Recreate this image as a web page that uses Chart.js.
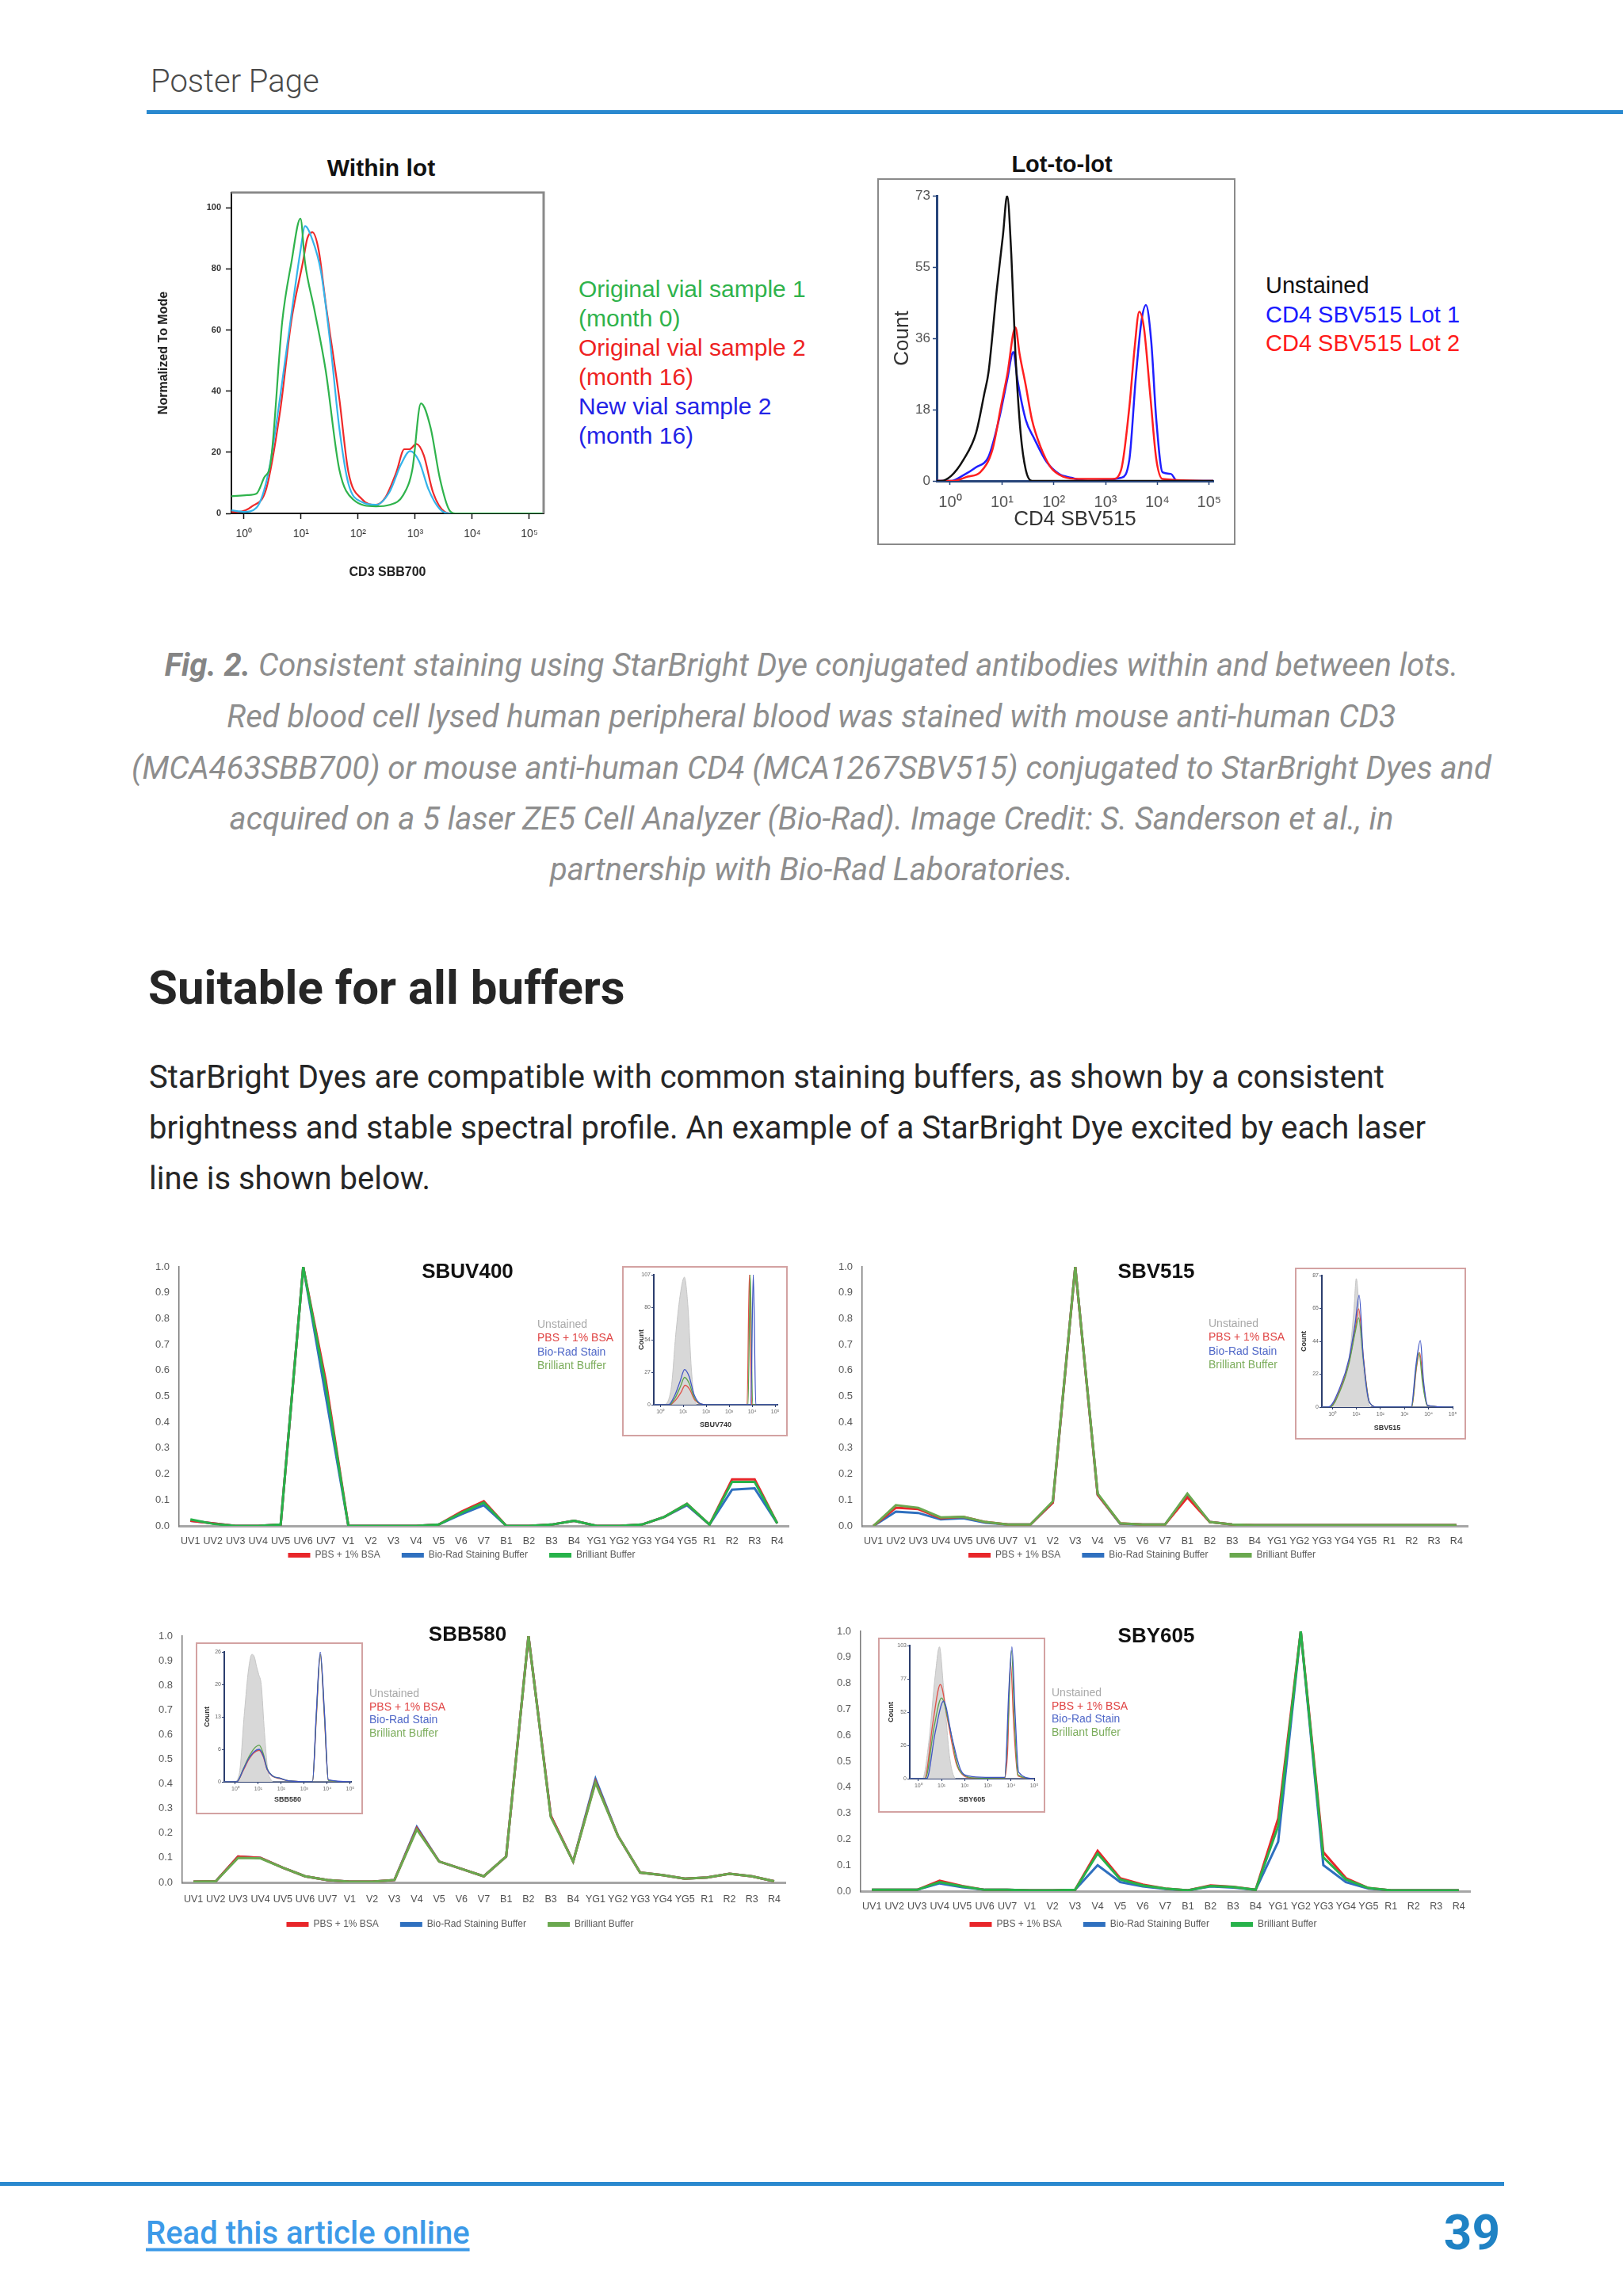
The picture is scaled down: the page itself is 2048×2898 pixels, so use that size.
<!DOCTYPE html>
<html>
<head>
<meta charset="utf-8">
<title>Poster Page</title>
<script src="https://cdn.jsdelivr.net/npm/chart.js@4.4.1/dist/chart.umd.min.js"></script>
<style>
  html, body { margin: 0; padding: 0; background: #fff; }
  #page { position: relative; width: 2048px; height: 2898px; overflow: hidden; background: #fff; font-family: Roboto, "Liberation Sans", sans-serif; }
  #page > * { position: absolute; margin: 0; }
  .rule { background: #2a89cf; height: 5px; }
  .txt { white-space: nowrap; }
  .vmid { transform: translateY(-50%); }
  .mid { transform: translate(-50%, -50%); white-space: nowrap; }
  .cap { left: 1024px; transform: translate(-50%, -50%); font-style: italic; font-size: 40px; color: #8e8e8e; white-space: nowrap; }
  .cap b { color: #858585; }
  .plt { font-family: "Liberation Sans", Arial, sans-serif; }
  .ptitle { font-family: "Liberation Sans", Arial, sans-serif; font-weight: bold; color: #111; }
  .frame { border: 2px solid #d3a2a2; background: #fff; box-sizing: border-box; }
  .ilg { font-family: "Liberation Sans", Arial, sans-serif; font-size: 14px; white-space: nowrap; }
</style>
</head>
<body>
<div id="page">
  <div class="txt vmid" style="left:190px;top:102px;font-size:40px;font-weight:300;color:#4a4a4a;">Poster Page</div>
  <div class="rule" style="left:185px;top:139px;width:1863px;"></div>

  <!-- Within lot -->
  <div class="ptitle mid" style="left:481px;top:212px;font-size:30px;">Within lot</div>
  <canvas id="withinLot" width="520" height="510" style="left:180px;top:230px;"></canvas>
  <div class="plt" style="left:730px;top:346px;font-size:30px;line-height:37px;white-space:nowrap;">
    <span style="color:#2fb34c">Original vial sample 1<br>(month 0)</span><br>
    <span style="color:#ee2222">Original vial sample 2<br>(month 16)</span><br>
    <span style="color:#2323e6">New vial sample 2<br>(month 16)</span>
  </div>

  <!-- Lot-to-lot -->
  <div class="ptitle mid" style="left:1340px;top:207px;font-size:29px;">Lot-to-lot</div>
  <div style="left:1107px;top:225px;width:452px;height:463px;border:2px solid #8a8a8a;box-sizing:border-box;"></div>
  <canvas id="lotToLot" width="448" height="458" style="left:1110px;top:228px;"></canvas>
  <div class="plt" style="left:1597px;top:342px;font-size:29px;line-height:36.5px;white-space:nowrap;">
    <span style="color:#111">Unstained</span><br>
    <span style="color:#1a1aff">CD4 SBV515 Lot 1</span><br>
    <span style="color:#ff1a1a">CD4 SBV515 Lot 2</span>
  </div>

  <div class="cap" style="top:839px;"><b>Fig. 2.</b> Consistent staining using StarBright Dye conjugated antibodies within and between lots.</div>
  <div class="cap" style="top:904px;">Red blood cell lysed human peripheral blood was stained with mouse anti-human CD3</div>
  <div class="cap" style="top:969px;">(MCA463SBB700) or mouse anti-human CD4 (MCA1267SBV515) conjugated to StarBright Dyes and</div>
  <div class="cap" style="top:1033px;">acquired on a 5 laser ZE5 Cell Analyzer (Bio-Rad). Image Credit: S. Sanderson et al., in</div>
  <div class="cap" style="top:1097px;">partnership with Bio-Rad Laboratories.</div>

  <div class="txt vmid" style="left:187px;top:1246px;font-size:60px;font-weight:700;color:#262626;">Suitable for all buffers</div>
  <div class="txt" style="left:188px;top:1328px;font-size:40px;line-height:64px;color:#262626;">
    StarBright Dyes are compatible with common staining buffers, as shown by a consistent<br>
    brightness and stable spectral profile. An example of a StarBright Dye excited by each laser<br>
    line is shown below.
  </div>

  <!-- spectral charts -->
  <canvas id="sbuv400" width="850" height="419" style="left:170px;top:1560px;"></canvas>
  <canvas id="sbv515" width="850" height="419" style="left:1030px;top:1560px;"></canvas>
  <canvas id="sbb580" width="850" height="419" style="left:170px;top:2026px;"></canvas>
  <canvas id="sby605" width="850" height="425" style="left:1030px;top:2020px;"></canvas>

  <div class="ptitle mid" style="left:590px;top:1604px;font-size:26px;">SBUV400</div>
  <div class="ptitle mid" style="left:1459px;top:1604px;font-size:26px;">SBV515</div>
  <div class="ptitle mid" style="left:590px;top:2062px;font-size:26px;">SBB580</div>
  <div class="ptitle mid" style="left:1459px;top:2064px;font-size:26px;">SBY605</div>

  <!-- insets -->
  <div class="frame" style="left:785px;top:1598px;width:209px;height:215px;"></div>
  <canvas id="insetUV" width="205" height="211" style="left:787px;top:1600px;"></canvas>
  <div class="frame" style="left:1634px;top:1600px;width:216px;height:217px;"></div>
  <canvas id="insetV" width="212" height="213" style="left:1636px;top:1602px;"></canvas>
  <div class="frame" style="left:247px;top:2073px;width:211px;height:217px;"></div>
  <canvas id="insetB" width="207" height="213" style="left:249px;top:2075px;"></canvas>
  <div class="frame" style="left:1108px;top:2067px;width:211px;height:221px;"></div>
  <canvas id="insetY" width="207" height="217" style="left:1110px;top:2069px;"></canvas>

  <div class="ilg" style="left:678px;top:1663px;line-height:17.3px;">
    <span style="color:#a9a9a9">Unstained</span><br><span style="color:#e04646">PBS + 1% BSA</span><br>
    <span style="color:#5068c8">Bio-Rad Stain</span><br><span style="color:#7cad5c">Brilliant Buffer</span>
  </div>
  <div class="ilg" style="left:1525px;top:1662px;line-height:17.3px;">
    <span style="color:#a9a9a9">Unstained</span><br><span style="color:#e04646">PBS + 1% BSA</span><br>
    <span style="color:#5068c8">Bio-Rad Stain</span><br><span style="color:#7cad5c">Brilliant Buffer</span>
  </div>
  <div class="ilg" style="left:466px;top:2129px;line-height:16.5px;">
    <span style="color:#a9a9a9">Unstained</span><br><span style="color:#e04646">PBS + 1% BSA</span><br>
    <span style="color:#5068c8">Bio-Rad Stain</span><br><span style="color:#7cad5c">Brilliant Buffer</span>
  </div>
  <div class="ilg" style="left:1327px;top:2128px;line-height:16.5px;">
    <span style="color:#a9a9a9">Unstained</span><br><span style="color:#e04646">PBS + 1% BSA</span><br>
    <span style="color:#5068c8">Bio-Rad Stain</span><br><span style="color:#7cad5c">Brilliant Buffer</span>
  </div>

  <div class="rule" style="left:0;top:2754px;width:1898px;"></div>
  <div class="txt vmid" style="left:184px;top:2818px;font-size:40px;font-weight:500;color:#3d9ae8;text-decoration:underline;text-underline-offset:6px;">Read this article online</div>
  <div class="txt vmid" style="right:155px;top:2817px;font-size:62px;font-weight:700;color:#1f82c4;">39</div>
</div>

<script>
// ---- data -------------------------------------------------------------
// histogram x values are log10 of intensity (10^0 .. 10^5)
const decades = [0, 1, 2, 3, 4, 5];
const supDigits = ['\u2070', '\u00b9', '\u00b2', '\u00b3', '\u2074', '\u2075'];

// Within lot, CD3 SBB700 (normalized to mode)
const withinYTicks = [0, 20, 40, 60, 80, 100];
const withinOrig1X = [-0.22, 0.06, 0.22, 0.35, 0.47, 0.67, 0.83, 0.99, 1.07, 1.23, 1.43, 1.67, 1.91, 2.31, 2.55, 2.79, 2.95, 3.1, 3.27, 3.43, 3.6, 3.7, 5.25];
const withinOrig1Y = [5.6, 6, 6.5, 11.6, 17, 62.7, 82, 96.5, 82, 67, 47, 14.4, 4.6, 2.3, 2.8, 6, 14.4, 36, 28, 11.6, 1, 0, 0];
const withinOrig2X = [-0.22, -0.1, 0.14, 0.39, 0.63, 0.83, 1.03, 1.11, 1.2, 1.31, 1.43, 1.67, 1.83, 2.07, 2.31, 2.47, 2.67, 2.81, 2.9, 3.02, 3.15, 3.31, 3.52, 3.65, 5.25];
const withinOrig2Y = [0.5, 0.5, 2.3, 8, 33, 63, 82, 90, 92, 86, 69, 37.6, 13.5, 4.6, 2.8, 5, 13.5, 21, 21, 22.7, 19, 7, 0.5, 0, 0];
const withinNew2X = [-0.22, 0.0, 0.22, 0.43, 0.63, 0.83, 0.99, 1.07, 1.19, 1.35, 1.51, 1.67, 1.83, 2.07, 2.31, 2.55, 2.75, 2.91, 3.07, 3.23, 3.43, 3.6, 5.25];
const withinNew2Y = [1, 0.5, 1.9, 13.5, 37.6, 65, 86, 94, 90, 79, 56, 28, 9.7, 3.7, 2.8, 7, 16, 20.4, 17, 8, 1.4, 0, 0];

// Lot-to-lot, CD4 SBV515 (count)
const lotTicks = [0, 18.25, 36.5, 54.75, 73];
const lotTickLabels = ['0', '18', '36', '55', '73'];
const lotUnstX = [-0.26, -0.18, 0.02, 0.26, 0.5, 0.66, 0.74, 0.9, 1.02, 1.1, 1.18, 1.26, 1.36, 1.46, 1.58, 5.08];
const lotUnstY = [0, 0, 1.3, 5.5, 12.3, 22.4, 27.8, 49, 63, 73, 58, 32.5, 12.3, 2.8, 0, 0];
const lot1X = [-0.26, 0.02, 0.26, 0.5, 0.74, 0.94, 1.1, 1.22, 1.3, 1.46, 1.62, 1.86, 2.1, 2.34, 2.66, 3.3, 3.46, 3.58, 3.69, 3.78, 3.88, 3.98, 4.1, 4.26, 4.38, 5.08];
const lot1Y = [0, 0, 1.5, 3.5, 6.2, 15.6, 25.8, 33, 25.8, 15.6, 10.9, 4.9, 1.8, 0.8, 0, 0.8, 5.5, 25.8, 40.6, 45, 36, 15.6, 2.2, 1.8, 0, 0];
const lot2X = [-0.26, 0.05, 0.34, 0.58, 0.82, 0.98, 1.1, 1.26, 1.34, 1.46, 1.58, 1.74, 1.94, 2.18, 2.5, 3.14, 3.3, 3.46, 3.56, 3.65, 3.74, 3.86, 3.98, 4.1, 5.08];
const lot2Y = [0, 0, 1.1, 2.2, 8.2, 19, 27, 39.3, 32.5, 24.4, 15.6, 8.9, 3.5, 1.1, 0.5, 0.5, 2.8, 19, 33.9, 43.3, 39.3, 22.4, 5.5, 0.5, 0];

// Spectral signatures, normalized
const channels = ['UV1', 'UV2', 'UV3', 'UV4', 'UV5', 'UV6', 'UV7', 'V1', 'V2', 'V3', 'V4', 'V5', 'V6', 'V7',
  'B1', 'B2', 'B3', 'B4', 'YG1', 'YG2', 'YG3', 'YG4', 'YG5', 'R1', 'R2', 'R3', 'R4'];

const sbuv400Pbs = [0.02, 0.01, 0, 0, 0.005, 1.0, 0.56, 0, 0, 0, 0, 0.005, 0.055, 0.095, 0, 0, 0.005, 0.02, 0, 0, 0.005, 0.035, 0.085, 0.005, 0.18, 0.18, 0.01];
const sbuv400BioRad = [0.02, 0.01, 0, 0, 0.005, 1.0, 0.5, 0, 0, 0, 0, 0.005, 0.045, 0.08, 0, 0, 0.005, 0.02, 0, 0, 0.005, 0.035, 0.08, 0.005, 0.14, 0.145, 0.01];
const sbuv400Brilliant = [0.025, 0.008, 0, 0, 0.005, 1.0, 0.54, 0, 0, 0, 0, 0.005, 0.05, 0.09, 0, 0, 0.005, 0.02, 0, 0, 0.005, 0.035, 0.085, 0.005, 0.17, 0.17, 0.01];

const sbv515Pbs = [0, 0.07, 0.065, 0.03, 0.035, 0.015, 0.005, 0.005, 0.09, 1.0, 0.12, 0.01, 0.005, 0.005, 0.11, 0.015, 0.005, 0.003, 0.003, 0.003, 0.003, 0.003, 0.003, 0.003, 0.003, 0.003, 0.003];
const sbv515BioRad = [0, 0.055, 0.05, 0.025, 0.03, 0.012, 0.005, 0.005, 0.09, 1.0, 0.12, 0.008, 0.005, 0.005, 0.12, 0.015, 0.005, 0.003, 0.003, 0.003, 0.003, 0.003, 0.003, 0.003, 0.003, 0.003, 0.003];
const sbv515Brilliant = [0, 0.08, 0.07, 0.033, 0.035, 0.015, 0.005, 0.005, 0.095, 1.0, 0.125, 0.01, 0.005, 0.005, 0.125, 0.015, 0.005, 0.003, 0.003, 0.003, 0.003, 0.003, 0.003, 0.003, 0.003, 0.003, 0.003];

const sbb580Pbs = [0.003, 0.005, 0.105, 0.1, 0.06, 0.025, 0.01, 0.003, 0.003, 0.01, 0.22, 0.085, 0.055, 0.025, 0.105, 1.0, 0.27, 0.085, 0.41, 0.19, 0.04, 0.03, 0.015, 0.02, 0.035, 0.025, 0.005];
const sbb580BioRad = [0.003, 0.005, 0.105, 0.1, 0.06, 0.025, 0.01, 0.003, 0.003, 0.01, 0.225, 0.085, 0.055, 0.025, 0.105, 1.0, 0.27, 0.085, 0.42, 0.19, 0.04, 0.03, 0.015, 0.02, 0.035, 0.025, 0.005];
const sbb580Brilliant = [0.003, 0.005, 0.1, 0.098, 0.06, 0.025, 0.01, 0.003, 0.003, 0.01, 0.215, 0.085, 0.055, 0.025, 0.105, 1.0, 0.265, 0.085, 0.405, 0.19, 0.04, 0.03, 0.015, 0.02, 0.035, 0.025, 0.005];

const sby605Pbs = [0.005, 0.005, 0.005, 0.04, 0.02, 0.005, 0.005, 0.003, 0.003, 0.005, 0.155, 0.05, 0.025, 0.01, 0.003, 0.022, 0.017, 0.005, 0.28, 1.0, 0.15, 0.05, 0.012, 0.003, 0.003, 0.003, 0.003];
const sby605BioRad = [0.005, 0.005, 0.005, 0.03, 0.015, 0.005, 0.005, 0.003, 0.003, 0.005, 0.1, 0.035, 0.018, 0.008, 0.003, 0.018, 0.014, 0.005, 0.19, 1.0, 0.1, 0.035, 0.01, 0.003, 0.003, 0.003, 0.003];
const sby605Brilliant = [0.005, 0.005, 0.005, 0.035, 0.018, 0.005, 0.005, 0.003, 0.003, 0.005, 0.145, 0.045, 0.022, 0.01, 0.003, 0.02, 0.016, 0.005, 0.25, 1.0, 0.13, 0.045, 0.012, 0.003, 0.003, 0.003, 0.003];

// Inset histograms (count)
const uvTicks = [0, 26.75, 53.5, 80.25, 107];
const uvTickLabels = ['0', '27', '54', '80', '107'];
const uvUnstX = [-0.28, 0.13, 0.47, 0.69, 0.89, 1.05, 1.2, 1.36, 1.53, 1.64, 5.1];
const uvUnstY = [0, 0, 12.7, 60.7, 93, 105, 82.5, 28, 1.7, 0, 0];
const uvPbsX = [-0.28, 0.42, 0.68, 0.9, 1.08, 1.27, 1.5, 1.76, 2.0, 3.78, 3.88, 3.98, 5.1];
const uvPbsY = [0, 0, 4, 10, 16, 13, 4, 0.5, 0, 0, 107, 0, 0];
const uvBioRadX = [-0.28, 0.36, 0.64, 0.86, 1.06, 1.25, 1.48, 1.76, 2.0, 3.94, 4.05, 4.16, 5.1];
const uvBioRadY = [0, 0, 8, 19, 29, 23.6, 8, 0.7, 0, 0, 107, 0, 0];
const uvBrilliantX = [-0.28, 0.4, 0.66, 0.88, 1.06, 1.25, 1.48, 1.76, 2.0, 3.82, 3.92, 4.02, 5.1];
const uvBrilliantY = [0, 0, 6, 15, 22.5, 18, 6, 0.5, 0, 0, 107, 0, 0];

const vTicks = [0, 21.75, 43.5, 65.25, 87];
const vTickLabels = ['0', '22', '44', '65', '87'];
const vUnstX = [-0.43, -0.17, 0.34, 0.69, 0.9, 1.0, 1.2, 1.47, 1.64, 5.0];
const vUnstY = [0, 0, 12, 31, 64, 85, 40, 5, 0, 0];
const vPbsX = [-0.43, -0.1, 0.36, 0.7, 0.96, 1.1, 1.3, 1.55, 1.9, 3.3, 3.5, 3.63, 3.78, 3.95, 5.0];
const vPbsY = [0, 0, 13, 30, 52, 65, 32, 3, 0, 0, 26, 36, 16, 1, 0];
const vBioRadX = [-0.43, -0.17, 0.34, 0.69, 0.95, 1.12, 1.29, 1.55, 1.9, 3.28, 3.48, 3.66, 3.79, 3.97, 5.0];
const vBioRadY = [0, 0, 13.7, 31.5, 55, 74, 33, 3, 0, 0, 28, 44, 17.5, 1, 0];
const vBrilliantX = [-0.43, -0.1, 0.36, 0.7, 0.96, 1.1, 1.3, 1.55, 1.9, 3.3, 3.48, 3.6, 3.76, 3.95, 5.0];
const vBrilliantY = [0, 0, 12, 29, 50, 59, 30, 3, 0, 0, 25, 36, 15, 1, 0];

const bTicks = [0, 6.5, 13, 19.5, 26];
const bTickLabels = ['0', '6', '13', '20', '26'];
const bUnstX = [-0.48, -0.06, 0.17, 0.4, 0.58, 0.72, 0.83, 0.93, 1.02, 1.13, 1.27, 1.41, 1.56, 1.68, 5.04];
const bUnstY = [0, 0, 1.5, 14, 22.6, 25.5, 25, 23, 21.5, 19.4, 9.9, 2.5, 0.4, 0, 0];
const bStainX = [-0.48, 0.06, 0.35, 0.58, 0.81, 1.04, 1.22, 1.39, 1.62, 1.97, 2.31, 3.36, 3.53, 3.7, 3.88, 4.05, 5.04];
const bPbsY = [0, 0, 2.3, 4.4, 5.8, 6.3, 5, 2.4, 1.1, 0.6, 0.2, 0, 13, 25.5, 13, 0.3, 0];
const bBioRadY = [0, 0, 2.5, 4.6, 6, 6.5, 5.2, 2.5, 1.2, 0.7, 0.2, 0, 14, 26, 14, 0.4, 0];
const bBrilliantY = [0, 0, 2.6, 4.9, 6.6, 7.3, 5.6, 2.6, 1.2, 0.7, 0.2, 0, 13.5, 25.5, 13.5, 0.3, 0];

const yTicks = [0, 25.75, 51.5, 77.25, 103];
const yTickLabels = ['0', '26', '52', '77', '103'];
const yUnstX = [-0.37, 0.18, 0.45, 0.73, 0.91, 1.09, 1.36, 1.64, 5.0];
const yUnstY = [0, 0, 28, 80, 102, 70, 15.6, 0, 0];
const yPbsX = [-0.37, 0.27, 0.64, 0.95, 1.27, 1.64, 1.91, 2.3, 3.7, 3.85, 3.98, 4.12, 4.3, 5.0];
const yPbsY = [0, 0, 44.7, 72.8, 44.7, 11.4, 3, 0.5, 0, 20, 90, 40, 2, 0];
const yBioRadX = [-0.37, 0.36, 0.73, 1.09, 1.45, 1.82, 2.18, 2.9, 3.73, 3.91, 4.04, 4.18, 4.33, 5.0];
const yBioRadY = [0, 0, 36, 60, 32, 7, 2, 1, 1, 70, 102, 49, 5, 0];
const yBrilliantX = [-0.37, 0.3, 0.68, 1.0, 1.35, 1.7, 2.0, 2.5, 3.72, 3.88, 4.02, 4.15, 4.3, 5.0];
const yBrilliantY = [0, 0, 40, 62.4, 40, 10, 2.5, 0.5, 0, 45, 99, 45, 3, 0];

// ---- helpers ----------------------------------------------------------
Chart.defaults.font.family = '"Liberation Sans", Arial, sans-serif';
Chart.defaults.animation = false;
Chart.defaults.responsive = false;
Chart.defaults.plugins.tooltip.enabled = false;
Chart.defaults.elements.point.radius = 0;

function pts(xs, ys) {
  return xs.map((x, i) => ({ x: x, y: ys[i] }));
}
function setTicks(values) {
  return (scale) => { scale.ticks = values.map(v => ({ value: v })); };
}
function pickLabel(values, labels) {
  return (v) => { const i = values.indexOf(v); return i < 0 ? '' : labels[i]; };
}
const decadeLabel = (v) => '10' + (supDigits[v] || '');

// top + right border of the plot area (flow cytometry style box)
const frameBox = {
  id: 'frameBox',
  afterDraw(chart, args, opts) {
    if (!opts || !opts.color) return;
    const ctx = chart.ctx, a = chart.chartArea;
    ctx.save();
    ctx.strokeStyle = opts.color;
    ctx.lineWidth = opts.width;
    ctx.beginPath();
    ctx.moveTo(a.left, a.top);
    ctx.lineTo(a.right, a.top);
    ctx.lineTo(a.right, a.bottom);
    ctx.stroke();
    ctx.restore();
  }
};
Chart.register(frameBox);

function histScales(c) {
  return {
    x: {
      type: 'linear', min: c.xMin, max: c.xMax,
      afterBuildTicks: setTicks(decades),
      afterFit: (s) => { s.height = c.xh; },
      ticks: { callback: decadeLabel, font: c.xFont, color: c.tickColor, padding: c.xPad, maxRotation: 0, autoSkip: false },
      grid: { drawOnChartArea: false, drawTicks: true, tickLength: c.tickLen, color: c.axisColor, tickWidth: c.tickWidth },
      border: { color: c.axisColor, width: c.axisWidth },
      title: { display: true, text: c.xTitle, font: c.titleFont, color: c.titleColor, padding: { top: 0, bottom: c.xTitlePad } }
    },
    y: {
      min: 0, max: c.yMax,
      afterBuildTicks: setTicks(c.yTicks),
      afterFit: (s) => { s.width = c.yw; },
      ticks: { callback: pickLabel(c.yTicks, c.yLabels), font: c.yFont, color: c.tickColor, padding: c.yPad, autoSkip: false },
      grid: { drawOnChartArea: false, drawTicks: true, tickLength: c.tickLen, color: c.axisColor, tickWidth: c.tickWidth },
      border: { color: c.axisColor, width: c.axisWidth },
      title: { display: true, text: c.yTitle, font: c.titleFont, color: c.titleColor, padding: { top: c.yTitlePad, bottom: 0 } }
    }
  };
}

// ---- Within lot -------------------------------------------------------
new Chart(document.getElementById('withinLot'), {
  type: 'line',
  data: {
    datasets: [
      { label: 'Original vial sample 1 (month 0)', data: pts(withinOrig1X, withinOrig1Y), borderColor: '#2fb34c', order: 0 },
      { label: 'Original vial sample 2 (month 16)', data: pts(withinOrig2X, withinOrig2Y), borderColor: '#ee2a2a', order: 2 },
      { label: 'New vial sample 2 (month 16)', data: pts(withinNew2X, withinNew2Y), borderColor: '#35b4ea', order: 1 }
    ]
  },
  options: {
    layout: { padding: { top: 13, right: 14, left: 0, bottom: 0 } },
    elements: { line: { borderWidth: 2.2, cubicInterpolationMode: 'monotone' } },
    plugins: { legend: { display: false }, frameBox: { color: '#8a8a8a', width: 3 } },
    scales: histScales({
      xMin: -0.22, xMax: 5.25, xh: 92, yw: 112, yMax: 105,
      yTicks: withinYTicks, yLabels: withinYTicks.map(String),
      xFont: { size: 14 }, yFont: { size: 11, weight: 'bold' }, tickColor: '#333',
      xPad: 11, yPad: 6, tickLen: 7, tickWidth: 1.5, axisColor: '#111', axisWidth: 2,
      xTitle: 'CD3 SBB700', yTitle: 'Normalized To Mode',
      titleFont: { size: 16, weight: 'bold' }, titleColor: '#222', xTitlePad: 8, yTitlePad: 17
    })
  }
});

// ---- Lot-to-lot -------------------------------------------------------
new Chart(document.getElementById('lotToLot'), {
  type: 'line',
  data: {
    datasets: [
      { label: 'Unstained', data: pts(lotUnstX, lotUnstY), borderColor: '#111111', order: 0 },
      { label: 'CD4 SBV515 Lot 1', data: pts(lot1X, lot1Y), borderColor: '#1f1fff', order: 2 },
      { label: 'CD4 SBV515 Lot 2', data: pts(lot2X, lot2Y), borderColor: '#ff1f1f', order: 1 }
    ]
  },
  options: {
    layout: { padding: { top: 19, right: 27, left: 0, bottom: 0 } },
    elements: { line: { borderWidth: 2.5, cubicInterpolationMode: 'monotone' } },
    plugins: { legend: { display: false } },
    scales: histScales({
      xMin: -0.26, xMax: 5.08, xh: 79, yw: 72, yMax: 73,
      yTicks: lotTicks, yLabels: lotTickLabels,
      xFont: { size: 20 }, yFont: { size: 17 }, tickColor: '#555',
      xPad: 10, yPad: 3, tickLen: 5, tickWidth: 1.5, axisColor: '#27457a', axisWidth: 3,
      xTitle: 'CD4 SBV515', yTitle: 'Count',
      titleFont: { size: 26 }, titleColor: '#333', xTitlePad: 15, yTitlePad: 13
    })
  }
});

// ---- spectral charts --------------------------------------------------
function spectralChart(id, pbs, bioRad, brilliant, green, geo) {
  return new Chart(document.getElementById(id), {
    type: 'line',
    data: {
      labels: channels,
      datasets: [
        { label: 'PBS + 1% BSA', data: pbs, borderColor: '#e8262a', backgroundColor: '#e8262a', order: 1 },
        { label: 'Bio-Rad Staining Buffer', data: bioRad, borderColor: '#2f70bf', backgroundColor: '#2f70bf', order: 2 },
        { label: 'Brilliant Buffer', data: brilliant, borderColor: green, backgroundColor: green, order: 0 }
      ]
    },
    options: {
      layout: { padding: { top: 39, right: geo.right, left: 0, bottom: 0 } },
      elements: { line: { borderWidth: 3, tension: 0 } },
      plugins: {
        legend: {
          position: 'bottom',
          labels: {
            boxWidth: 28, boxHeight: 6, padding: 3, color: '#595959', font: { size: 12 },
            sort: (a, b) => a.datasetIndex - b.datasetIndex,
            // flat colour bars, wider gap between entries
            generateLabels: (chart) => Chart.defaults.plugins.legend.labels.generateLabels(chart)
              .map(l => Object.assign(l, { lineWidth: 0, text: l.datasetIndex < 2 ? l.text + '\u2003\u2003' : l.text }))
          }
        }
      },
      scales: {
        x: {
          offset: true,
          afterFit: (s) => { s.height = geo.xh; },
          grid: { display: false, drawTicks: false },
          border: { color: '#a6a6a6', width: 3 },
          ticks: { autoSkip: false, maxRotation: 0, padding: geo.xPad, color: '#505050', font: { size: 12.5 } }
        },
        y: {
          min: 0, max: 1,
          afterFit: (s) => { s.width = geo.left; },
          grid: { display: false, drawTicks: false },
          border: { color: '#7a7a7a', width: 1.5 },
          ticks: { stepSize: 0.1, padding: 12, color: '#595959', font: { size: 13 }, callback: (v) => v.toFixed(1) }
        }
      }
    }
  });
}

spectralChart('sbuv400', sbuv400Pbs, sbuv400BioRad, sbuv400Brilliant, '#27b24a', { left: 56, right: 25, xh: 28, xPad: 12 });
spectralChart('sbv515', sbv515Pbs, sbv515BioRad, sbv515Brilliant, '#6aa84f', { left: 58, right: 28, xh: 28, xPad: 12 });
spectralChart('sbb580', sbb580Pbs, sbb580BioRad, sbb580Brilliant, '#6aa84f', { left: 60, right: 29, xh: 44, xPad: 14 });
spectralChart('sby605', sby605Pbs, sby605BioRad, sby605Brilliant, '#27b24a', { left: 56, right: 25, xh: 33, xPad: 12 });

// ---- inset histograms -------------------------------------------------
function insetChart(id, c) {
  return new Chart(document.getElementById(id), {
    type: 'line',
    data: {
      datasets: [
        { label: 'Unstained', data: pts(c.unst[0], c.unst[1]), borderColor: '#c6c6c6', backgroundColor: '#d8d8d8', fill: 'origin', borderWidth: 1, order: 3 },
        { label: 'PBS + 1% BSA', data: pts(c.pbs[0], c.pbs[1]), borderColor: '#e0524a', order: 2 },
        { label: 'Bio-Rad Stain', data: pts(c.bioRad[0], c.bioRad[1]), borderColor: '#4055c4', order: 0 },
        { label: 'Brilliant Buffer', data: pts(c.brilliant[0], c.brilliant[1]), borderColor: '#5da24c', order: 1 }
      ]
    },
    options: {
      layout: { padding: { top: c.top, right: c.right, left: 0, bottom: 0 } },
      elements: { line: { borderWidth: 1.3, cubicInterpolationMode: 'monotone' } },
      plugins: { legend: { display: false } },
      scales: histScales({
        xMin: c.xMin, xMax: c.xMax, xh: c.xh, yw: c.yw, yMax: c.yMax,
        yTicks: c.ticks, yLabels: c.labels,
        xFont: { size: 7 }, yFont: { size: 7 }, tickColor: '#666',
        xPad: 2, yPad: 1, tickLen: 3, tickWidth: 1, axisColor: '#2c3e6e', axisWidth: 2,
        xTitle: c.xTitle, yTitle: 'Count',
        titleFont: { size: 9, weight: 'bold' }, titleColor: '#333', xTitlePad: c.xTitlePad, yTitlePad: c.yTitlePad
      })
    }
  });
}

insetChart('insetUV', {
  unst: [uvUnstX, uvUnstY], pbs: [uvPbsX, uvPbsY], bioRad: [uvBioRadX, uvBioRadY], brilliant: [uvBrilliantX, uvBrilliantY],
  xMin: -0.28, xMax: 5.1, yMax: 107, ticks: uvTicks, labels: uvTickLabels, xTitle: 'SBUV740',
  top: 9, right: 11, xh: 38, yw: 38, xTitlePad: 7, yTitlePad: 17
});
insetChart('insetV', {
  unst: [vUnstX, vUnstY], pbs: [vPbsX, vPbsY], bioRad: [vBioRadX, vBioRadY], brilliant: [vBrilliantX, vBrilliantY],
  xMin: -0.43, xMax: 5.0, yMax: 87, ticks: vTicks, labels: vTickLabels, xTitle: 'SBV515',
  top: 8, right: 15, xh: 39, yw: 32, xTitlePad: 7, yTitlePad: 4
});
insetChart('insetB', {
  unst: [bUnstX, bUnstY], pbs: [bStainX, bPbsY], bioRad: [bStainX, bBioRadY], brilliant: [bStainX, bBrilliantY],
  xMin: -0.48, xMax: 5.04, yMax: 26, ticks: bTicks, labels: bTickLabels, xTitle: 'SBB580',
  top: 10, right: 13, xh: 39, yw: 34, xTitlePad: 11, yTitlePad: 7
});
insetChart('insetY', {
  unst: [yUnstX, yUnstY], pbs: [yPbsX, yPbsY], bioRad: [yBioRadX, yBioRadY], brilliant: [yBrilliantX, yBrilliantY],
  xMin: -0.37, xMax: 5.0, yMax: 103, ticks: yTicks, labels: yTickLabels, xTitle: 'SBY605',
  top: 8, right: 12, xh: 41, yw: 38, xTitlePad: 9, yTitlePad: 9
});
</script>
</body>
</html>
